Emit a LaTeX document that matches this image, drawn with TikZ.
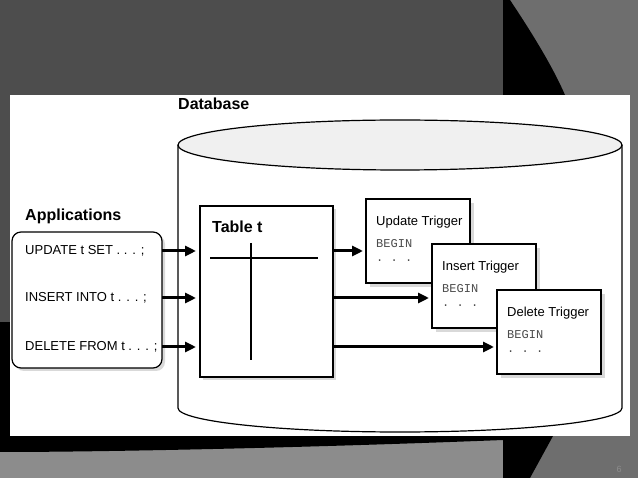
\documentclass[tikz,border=0pt]{standalone}
\usepackage{fontspec}
\setmainfont{Liberation Sans}
\setmonofont{Liberation Mono}
\usetikzlibrary{positioning, arrows.meta, calc}
\definecolor{SlideDark}{HTML}{4d4d4d}
\definecolor{SlideMid}{HTML}{6e6e6e}
\definecolor{SlideLight}{HTML}{8c8c8c}
\definecolor{LidGray}{HTML}{f0f0f0}
\begin{document}
\begin{tikzpicture}[
    x=1pt, y=-1pt,
    >=Triangle,
    flowArrow/.style={draw, line width=3pt, -{Triangle[length=11pt, width=10pt]}},
    appBox/.style={draw, line width=1.2pt, rounded corners=9pt, fill=white},
    plainBox/.style={draw, line width=1.2pt, fill=white},
    shadowBox/.style={fill=black!15},
    heading/.style={font=\bfseries\fontsize{16}{18}\selectfont, anchor=west, inner sep=0pt},
    stmt/.style={font=\fontsize{13}{15}\selectfont, anchor=west, inner sep=0pt},
    trigTitle/.style={font=\fontsize{13}{15}\selectfont, anchor=west, inner sep=0pt},
    codeText/.style={font=\ttfamily\fontsize{12}{14}\selectfont, anchor=west, inner sep=0pt, text=black!70},
  ]
  \useasboundingbox (0,0) rectangle (638,478);
  % slide background
  \fill[SlideDark] (0,0) rectangle (638,478);
  \fill[SlideMid] (503,0) rectangle (638,478);
  \fill[black] (503,0) -- (510,0) .. controls (530,30) and (552,65) .. (565,95) -- (503,95) -- cycle;
  \fill[SlideLight] (0,430) rectangle (503,478);
  \fill[black] (0,322) rectangle (503,438);
  \fill[black] (0,438) -- (503,438) -- (503,440) .. controls (300,448) and (100,452) .. (0,452) -- cycle;
  \fill[black] (503,436) -- (553,436) -- (530,478) -- (503,478) -- cycle;
  \node[text=black!45, font=\fontsize{9}{10}\selectfont] (pageNo) at (619,469) {6};
  % white panel
  \fill[white] (10,95) rectangle (630,436);
  % database cylinder
  \node[heading] (dbL) at (178,104) {Database};
  \draw[line width=1.2pt, fill=white] (178,145) -- (178,408) arc[start angle=180, end angle=0, x radius=222, y radius=24] -- (622,145);
  \draw[line width=1.2pt, fill=LidGray] (400,145) ellipse[x radius=222, y radius=25];
  % applications
  \node[heading] (appL) at (25,216) {Applications};
  \fill[black!15, rounded corners=9pt] (15,235) rectangle (165,371);
  \draw[appBox] (12,232) rectangle (162,368);
  \node[stmt] (updS) at (25,251) {UPDATE t SET . . . ;};
  \node[stmt] (insS) at (25,298) {INSERT INTO t . . . ;};
  \node[stmt] (delS) at (25,347) {DELETE FROM t . . . ;};
  \coordinate (appOut1) at (162,251);
  \coordinate (appOut2) at (162,298);
  \coordinate (appOut3) at (162,347);
  % table
  \fill[shadowBox] (203,209) rectangle (336,380);
  \draw[plainBox] (200,206) rectangle (333,377);
  \node[heading] (tabL) at (212,227) {Table t};
  \draw[line width=1.2pt] (210,258) -- (318,258);
  \draw[line width=1.2pt] (251,243) -- (251,360);
  \coordinate (tabOut1) at (333,251);
  \coordinate (tabOut2) at (333,298);
  \coordinate (tabOut3) at (333,347);
  % triggers
  \foreach \nm/\ttl/\bx/\by in {updT/Update Trigger/366/199, insT/Insert Trigger/432/244, delT/Delete Trigger/497/290}{
    \fill[shadowBox] (\bx+4,\by+4) rectangle (\bx+108,\by+88);
    \draw[plainBox] (\bx,\by) rectangle (\bx+104,\by+84);
    \coordinate (\nm) at (\bx-3,\by+52);
    \node[trigTitle] (\nm T) at (\bx+10,\by+23) {\ttl};
    \node[codeText] (\nm B) at (\bx+10,\by+45) {BEGIN};
    \node[codeText] (\nm D) at (\bx+10,\by+62) {.\ .\ .};
  }
  % arrows
  \draw[flowArrow] (appOut1) -- ++(34,0);
  \draw[flowArrow] (appOut2) -- ++(34,0);
  \draw[flowArrow] (appOut3) -- ++(34,0);
  \draw[flowArrow] (tabOut1) -- (tabOut1 -| updT);
  \draw[flowArrow] (tabOut2) -- (tabOut2 -| insT);
  \draw[flowArrow] (tabOut3) -- (tabOut3 -| delT);
\end{tikzpicture}
\end{document}
